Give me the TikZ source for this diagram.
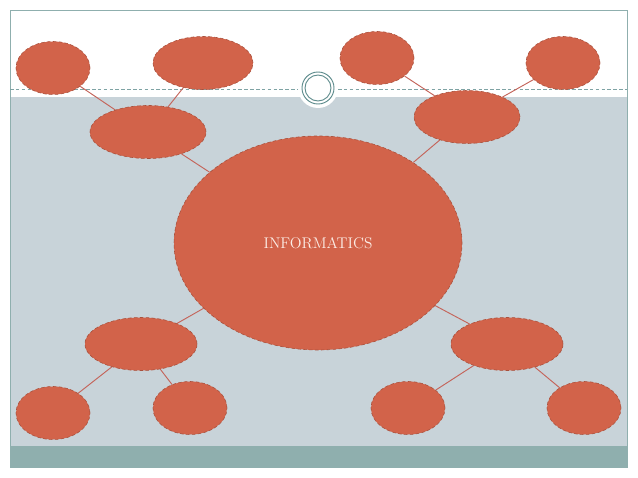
\documentclass[tikz,border=0pt]{standalone}
\usetikzlibrary{shapes.geometric,backgrounds}
\definecolor{leafred}{HTML}{D2634A}
\definecolor{leafedge}{HTML}{A9503C}
\definecolor{linkred}{HTML}{C4645A}
\definecolor{paneblue}{HTML}{C8D3D9}
\definecolor{bandteal}{HTML}{8FAFAE}
\definecolor{ringteal}{HTML}{5E8C8D}
\definecolor{labelcream}{HTML}{FCEDE6}
\tikzset{leaf/.style={ellipse, fill=leafred, draw=leafedge, densely dashed, line width=.5pt, inner sep=0pt},
  link/.style={draw=linkred, line width=.8pt}}
\begin{document}
\begin{tikzpicture}[x=0.03cm, y=-0.03cm, line join=round]
  \useasboundingbox (0,0) rectangle (638,478);
  % bubbles
  \node[leaf, minimum width=288*0.03cm, minimum height=214*0.03cm, text=labelcream] (main) at (318,243)
    {\fontsize{13.2}{15}\selectfont INFORMATICS};
  \foreach \n/\x/\y/\w in {l1/53/68/74, l2/203/63/100, l3/377/58/74, l4/563/63/74,
      m1/148/132/116, m2/467/117/106, m3/141/344/112, m4/507/344/112,
      l5/53/413/74, l6/190/408/74, l7/408/408/74, l8/584/408/74}
    \node[leaf, minimum width=\w*0.03cm, minimum height=53*0.03cm] (\n) at (\x,\y) {};
  \begin{pgfonlayer}{background}
    % slide background
    \fill[white] (10,10) rectangle (627,97);
    \fill[paneblue] (10,97) rectangle (627,446);
    \fill[bandteal] (10,446) rectangle (627,467);
    \draw[bandteal, line width=.6pt] (10,10) rectangle (627,467);
    \draw[ringteal!80, densely dashed, line width=.6pt] (10,89) -- (298,89) (338,89) -- (627,89);
    \fill[white] (318,88) circle (20);
    \draw[ringteal, line width=.8pt] (318,88) circle (16) (318,88) circle (13);
    % connectors
    \foreach \a/\b in {l1/m1, l2/m1, m1/main, l3/m2, l4/m2, m2/main, m3/main, m3/l5, m3/l6, m4/main, m4/l7, m4/l8}
      \draw[link] (\a) -- (\b);
  \end{pgfonlayer}
\end{tikzpicture}
\end{document}
